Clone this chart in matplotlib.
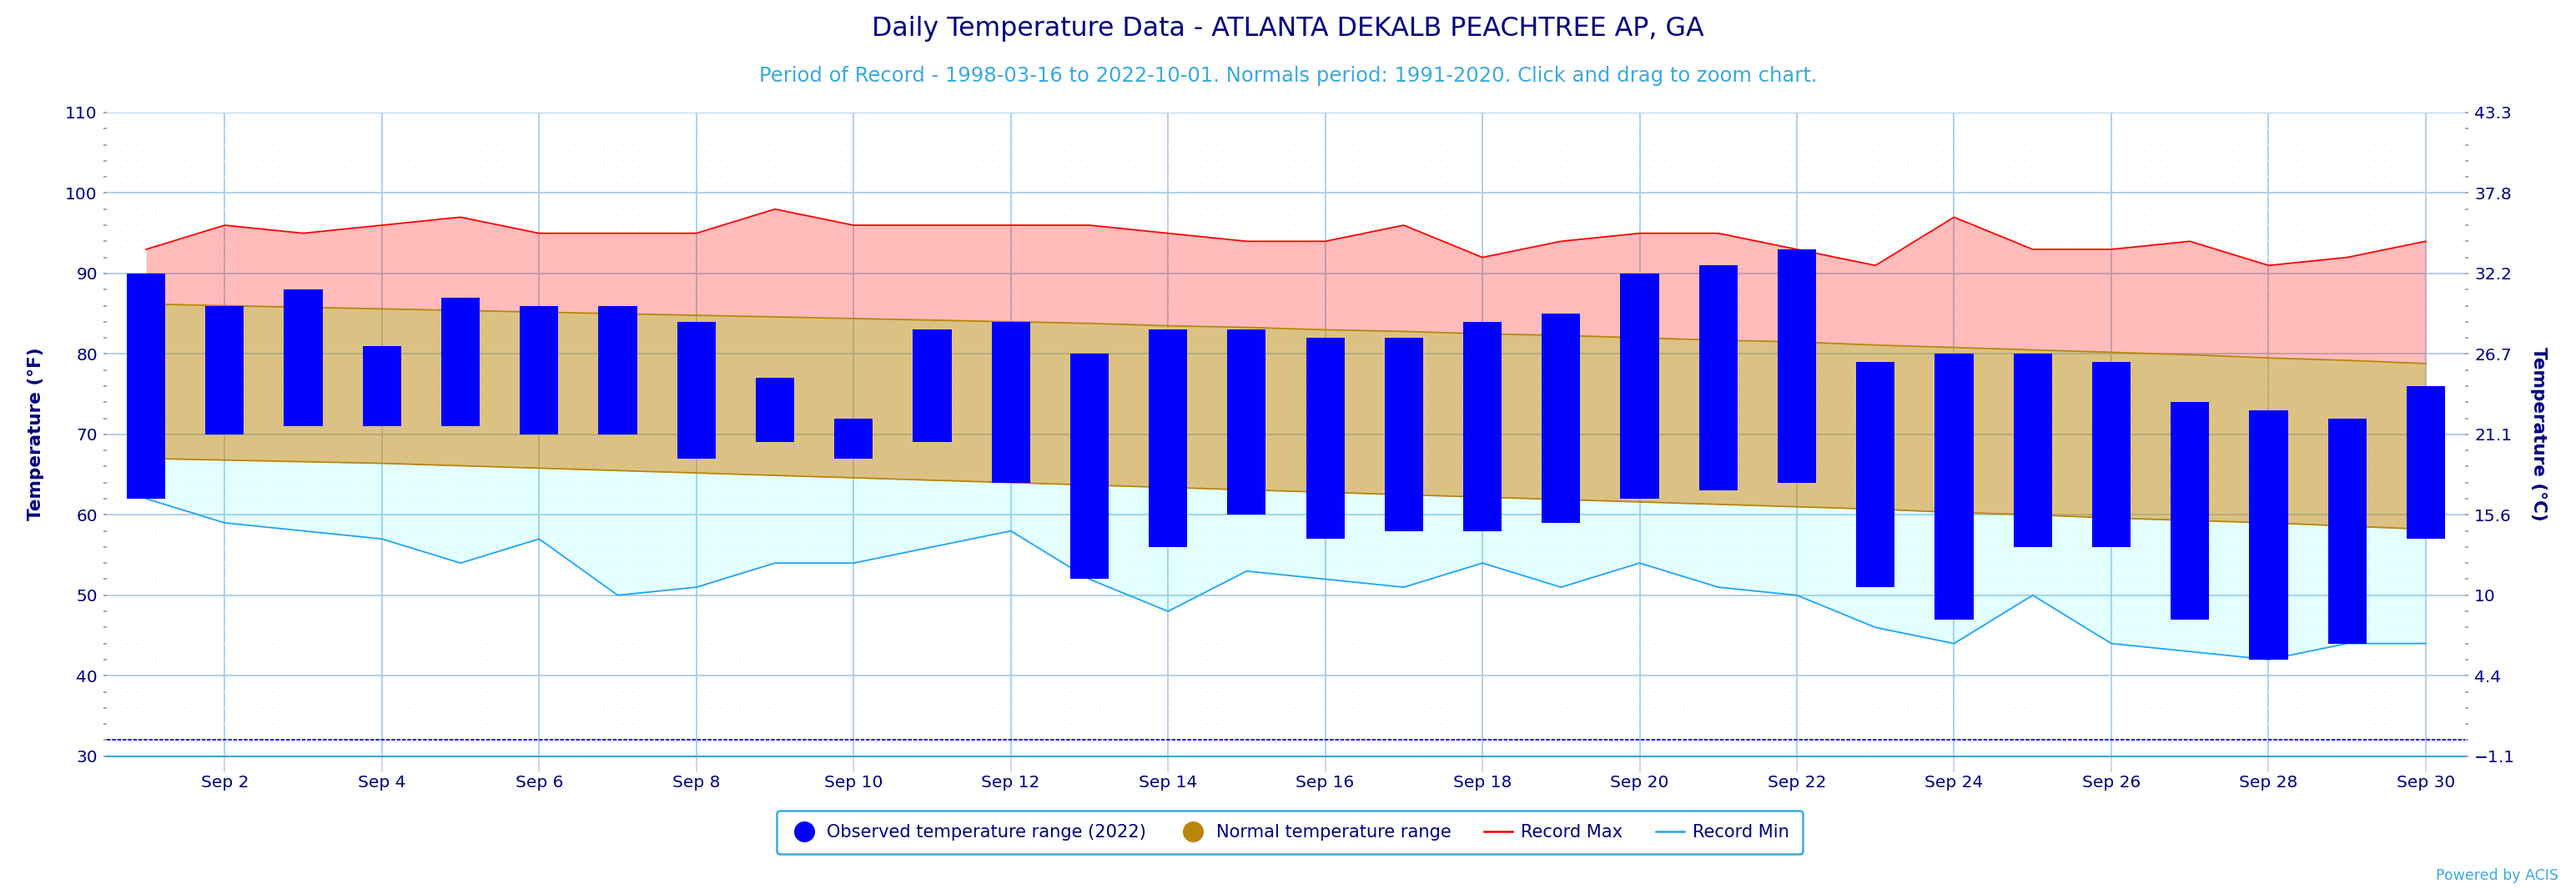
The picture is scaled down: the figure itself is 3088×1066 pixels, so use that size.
import matplotlib
matplotlib.use('Agg')
import matplotlib.pyplot as plt
from matplotlib.lines import Line2D
from matplotlib.ticker import MultipleLocator

days = list(range(1, 31))
obs_low = [62, 70, 71, 71, 71, 70, 70, 67, 69, 67, 69, 64, 52, 56, 60,
           57, 58, 58, 59, 62, 63, 64, 51, 47, 56, 56, 47, 42, 44, 57]
obs_high = [90, 86, 88, 81, 87, 86, 86, 84, 77, 72, 83, 84, 80, 83, 83,
            82, 82, 84, 85, 90, 91, 93, 79, 80, 80, 79, 74, 73, 72, 76]
record_max = [93, 96, 95, 96, 97, 95, 95, 95, 98, 96, 96, 96, 96, 95, 94,
              94, 96, 92, 94, 95, 95, 93, 91, 97, 93, 93, 94, 91, 92, 94]
record_min = [62, 59, 58, 57, 54, 57, 50, 51, 54, 54, 56, 58, 52, 48, 53,
              52, 51, 54, 51, 54, 51, 50, 46, 44, 50, 44, 43, 42, 44, 44]
normal_high = [86.2, 86.0, 85.8, 85.6, 85.4, 85.2, 85.0, 84.8, 84.6, 84.4,
               84.2, 84.0, 83.8, 83.5, 83.3, 83.0, 82.8, 82.5, 82.3, 82.0,
               81.7, 81.5, 81.1, 80.8, 80.5, 80.2, 79.9, 79.5, 79.2, 78.8]
normal_low = [67.0, 66.8, 66.6, 66.4, 66.1, 65.8, 65.5, 65.2, 64.9, 64.6,
              64.3, 64.0, 63.7, 63.4, 63.1, 62.8, 62.5, 62.2, 61.9, 61.6,
              61.3, 61.0, 60.7, 60.3, 60.0, 59.6, 59.3, 59.0, 58.6, 58.2]

f_ticks = [30, 40, 50, 60, 70, 80, 90, 100, 110]
c_labels = ['\u22121.1', '4.4', '10', '15.6', '21.1', '26.7', '32.2', '37.8', '43.3']
x_ticks = list(range(2, 31, 2))
x_labels = [f'Sep {d}' for d in x_ticks]

NAVY = '#000080'
SKY = '#3BA9E0'
GRID = '#ABCDE8'
GOLD = '#B8860B'
MIN_BLUE = '#1EA5F5'

W, H = 3088, 1066
fig = plt.figure(figsize=(W / 100, H / 100), dpi=100)
ax = fig.add_axes([128 / W, (H - 906.7) / H, (2955 - 128) / W, (906.7 - 135) / H])

# fills sit on top of the grid, so they are see-through
ax.fill_between(days, normal_high, record_max, color='#FF0A00', alpha=0.27, lw=0, zorder=1)
ax.fill_between(days, normal_low, normal_high, color=GOLD, alpha=0.5, lw=0, zorder=1)
ax.fill_between(days, record_min, normal_low, color='cyan', alpha=0.11, lw=0, zorder=1)

ax.plot(days, normal_high, color=GOLD, lw=1.3, zorder=2)
ax.plot(days, normal_low, color=GOLD, lw=1.3, zorder=2)
ax.plot(days, record_max, color='red', lw=1.3, zorder=2)
ax.plot(days, record_min, color=MIN_BLUE, lw=1.3, zorder=2)

heights = [h - l for h, l in zip(obs_high, obs_low)]
ax.bar(days, heights, bottom=obs_low, width=0.49, color='#0000FF', zorder=3)

ax.axhline(32, color='#0000FF', lw=1.3, linestyle=(0, (2.5, 1.0)), zorder=2)

ax.set_xlim(0.5, 30.5)
ax.set_ylim(30, 110)
ax.set_xticks(x_ticks)
ax.set_xticklabels(x_labels)
ax.set_yticks(f_ticks)
ax.yaxis.set_minor_locator(MultipleLocator(2))

ax.set_axisbelow(True)
ax.grid(True, which='major', color=GRID, lw=1.3)
ax.grid(True, which='minor', axis='y', color='#EEEEEE', lw=1.2, linestyle=(0, (1, 6)))

for s in ['top', 'left', 'right']:
    ax.spines[s].set_visible(False)
ax.spines['bottom'].set_color(SKY)
ax.spines['bottom'].set_linewidth(1.6)

ax.tick_params(axis='x', length=13.7, width=1.3, color='#C9D5E8', pad=2,
               labelsize=14.5, labelcolor=NAVY)
ax.tick_params(axis='y', which='major', length=3, width=1.2, color='#999999', pad=5,
               labelsize=14.5, labelcolor=NAVY)
ax.tick_params(axis='y', which='minor', length=3, width=1.2, color='#999999')

ax2 = ax.twinx()
ax2.set_ylim(30, 110)
ax2.set_yticks(f_ticks)
ax2.set_yticklabels(c_labels)
ax2.yaxis.set_minor_locator(MultipleLocator(2))
for s in ax2.spines.values():
    s.set_visible(False)
ax2.tick_params(axis='y', which='major', length=3, width=1.2, color='#999999', pad=5,
                labelsize=14.5, labelcolor=NAVY)
ax2.tick_params(axis='y', which='minor', length=3, width=1.2, color='#999999')

fig.text(1544 / W, 1 - 35 / H, 'Daily Temperature Data - ATLANTA DEKALB PEACHTREE AP, GA',
         color=NAVY, fontsize=22.8, ha='center', va='center')
fig.text(1544 / W, 1 - 91 / H,
         'Period of Record - 1998-03-16 to 2022-10-01. Normals period: 1991-2020. Click and drag to zoom chart.',
         color=SKY, fontsize=17.5, ha='center', va='center')
fig.text(43 / W, 1 - 520 / H, 'Temperature (\u00b0F)', color=NAVY, fontsize=15.5,
         fontweight='bold', rotation=90, ha='center', va='center')
fig.text(3043 / W, 1 - 520 / H, 'Temperature (\u00b0C)', color=NAVY, fontsize=15.5,
         fontweight='bold', rotation=270, ha='center', va='center')
fig.text(3067 / W, 1 - 1050 / H, 'Powered by ACIS', color=SKY, fontsize=12.5,
         ha='right', va='center')

handles = [
    Line2D([], [], linestyle='', marker='o', markersize=17, color='#0000FF'),
    Line2D([], [], linestyle='', marker='o', markersize=17, color=GOLD),
    Line2D([], [], color='red', lw=1.8),
    Line2D([], [], color=MIN_BLUE, lw=1.8),
]
labels = ['Observed temperature range (2022)', 'Normal temperature range',
          'Record Max', 'Record Min']
leg = fig.legend(handles, labels, ncol=4, loc='center', bbox_to_anchor=(1546 / W, 1 - 998 / H),
                 fontsize=15.1, labelcolor=NAVY, frameon=True, fancybox=True,
                 edgecolor=SKY, facecolor='white', framealpha=1,
                 handlelength=1.6, handletextpad=0.5, columnspacing=1.9,
                 borderpad=0.75, borderaxespad=0)
leg.get_frame().set_linewidth(1.8)

fig.savefig('out.png', dpi=100)
